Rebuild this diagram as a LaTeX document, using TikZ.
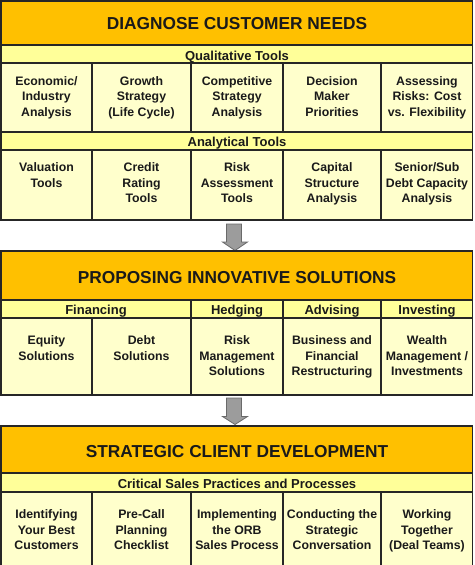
\documentclass[tikz,border=0pt]{standalone}
\usepackage{fontspec}
\setmainfont{Liberation Sans}
\definecolor{gold}{HTML}{FFC000}
\definecolor{stripc}{HTML}{FFFF99}
\definecolor{cellc}{HTML}{FFFFCC}
\definecolor{edge}{HTML}{262626}
\definecolor{ink}{HTML}{1A1A1A}
\definecolor{arrowfill}{HTML}{9C9C9C}
\definecolor{arrowedge}{HTML}{6A6A6A}
\begin{document}
\begin{tikzpicture}[x=1pt,y=-1pt,
  grid/.style={draw=edge,line width=1.3pt},
  outer/.style={draw=edge,line width=1.7pt},
  hdrtxt/.style={font=\fontsize{17.3}{20}\selectfont\bfseries,text=ink,inner sep=0,anchor=base},
  striptxt/.style={font=\fontsize{13}{15}\selectfont\bfseries,text=ink,inner sep=0,anchor=base},
  celltxt/.style={font=\fontsize{12.3}{15.5}\selectfont\bfseries,text=ink,align=center,anchor=north,inner sep=0,execute at begin node=\strut},
  blockarrow/.style={fill=arrowfill,draw=arrowedge,line width=0.8pt,line join=miter}]
\useasboundingbox (0,0) rectangle (474,565);

% ---------- Section 1 ----------
\fill[gold] (1,1) rectangle (472.5,45);
\fill[stripc] (1,45) rectangle (472.5,63);
\fill[cellc] (1,63) rectangle (472.5,132);
\fill[stripc] (1,132) rectangle (472.5,150);
\fill[cellc] (1,150) rectangle (472.5,220);
\foreach \yy in {45,63,132,150} \draw[grid] (1,\yy) -- (472.5,\yy);
\foreach \xx in {92,191,283,381} {
  \draw[grid] (\xx,63) -- (\xx,132);
  \draw[grid] (\xx,150) -- (\xx,220);
}
\draw[outer] (1,1) rectangle (472.5,220);

\node[hdrtxt] (h1) at (237,29.5) {DIAGNOSE CUSTOMER NEEDS};
\node[striptxt] (qual) at (237,60.2) {Qualitative Tools};
\node[striptxt] (anal) at (237,146.8) {Analytical Tools};

\node[celltxt] (econ) at (46.5,76.3) {Economic/\\Industry\\Analysis};
\node[celltxt] (grow) at (141.5,76.3) {Growth\\Strategy\\(Life Cycle)};
\node[celltxt] (comp) at (237,76.3) {Competitive\\Strategy\\Analysis};
\node[celltxt] (deci) at (332,76.3) {Decision\\Maker\\Priorities};
\node[celltxt] (asse) at (427,76.3) {Assessing\\Risks: Cost\\vs. Flexibility};

\node[celltxt] (valu) at (46.5,162.5) {Valuation\\Tools};
\node[celltxt] (cred) at (141.5,162.5) {Credit\\Rating\\Tools};
\node[celltxt] (risk) at (237,162.5) {Risk\\Assessment\\Tools};
\node[celltxt] (capi) at (332,162.5) {Capital\\Structure\\Analysis};
\node[celltxt] (seni) at (427,162.5) {Senior/Sub\\Debt Capacity\\Analysis};

% ---------- Arrow 1 ----------
\draw[blockarrow] (226.5,224) -- (241.5,224) -- (241.5,242) -- (247.5,242) -- (235,250.5) -- (222.5,242) -- (226.5,242) -- cycle;

% ---------- Section 2 ----------
\fill[gold] (1,251) rectangle (472.5,300);
\fill[stripc] (1,300) rectangle (472.5,318);
\fill[cellc] (1,318) rectangle (472.5,395);
\foreach \yy in {300,318} \draw[grid] (1,\yy) -- (472.5,\yy);
\foreach \xx in {191,283,381} \draw[grid] (\xx,300) -- (\xx,395);
\draw[grid] (92,318) -- (92,395);
\draw[outer] (1,251) rectangle (472.5,395);

\node[hdrtxt] (h2) at (237,283.5) {PROPOSING INNOVATIVE SOLUTIONS};
\node[striptxt] (fina) at (96,314.6) {Financing};
\node[striptxt] (hedg) at (237,314.6) {Hedging};
\node[striptxt] (advi) at (332,314.6) {Advising};
\node[striptxt] (inve) at (427,314.6) {Investing};

\node[celltxt] (equi) at (46.5,335.5) {Equity\\Solutions};
\node[celltxt] (debt) at (141.5,335.5) {Debt\\Solutions};
\node[celltxt] (rman) at (237,335.5) {Risk\\Management\\Solutions};
\node[celltxt] (busi) at (332,335.5) {Business and\\Financial\\Restructuring};
\node[celltxt] (weal) at (427,335.5) {Wealth\\Management /\\Investments};

% ---------- Arrow 2 ----------
\draw[blockarrow] (226.5,398) -- (241.5,398) -- (241.5,416.5) -- (247.5,416.5) -- (235,424.5) -- (222.5,416.5) -- (226.5,416.5) -- cycle;

% ---------- Section 3 ----------
\fill[gold] (1,426) rectangle (472.5,473);
\fill[stripc] (1,473) rectangle (472.5,492);
\fill[cellc] (1,492) rectangle (472.5,567);
\foreach \yy in {473,492} \draw[grid] (1,\yy) -- (472.5,\yy);
\foreach \xx in {92,191,283,381} \draw[grid] (\xx,492) -- (\xx,567);
\draw[outer] (1,567) -- (1,426) -- (472.5,426) -- (472.5,567);

\node[hdrtxt] (h3) at (237,457.9) {STRATEGIC CLIENT DEVELOPMENT};
\node[striptxt] (crit) at (237,488.6) {Critical Sales Practices and Processes};

\node[celltxt] (iden) at (46.5,509.5) {Identifying\\Your Best\\Customers};
\node[celltxt] (prec) at (141.5,509.5) {Pre-Call\\Planning\\Checklist};
\node[celltxt] (impl) at (237,509.5) {Implementing\\the ORB\\Sales Process};
\node[celltxt] (cond) at (332,509.5) {Conducting the\\Strategic\\Conversation};
\node[celltxt] (work) at (427,509.5) {Working\\Together\\(Deal Teams)};
\end{tikzpicture}
\end{document}
